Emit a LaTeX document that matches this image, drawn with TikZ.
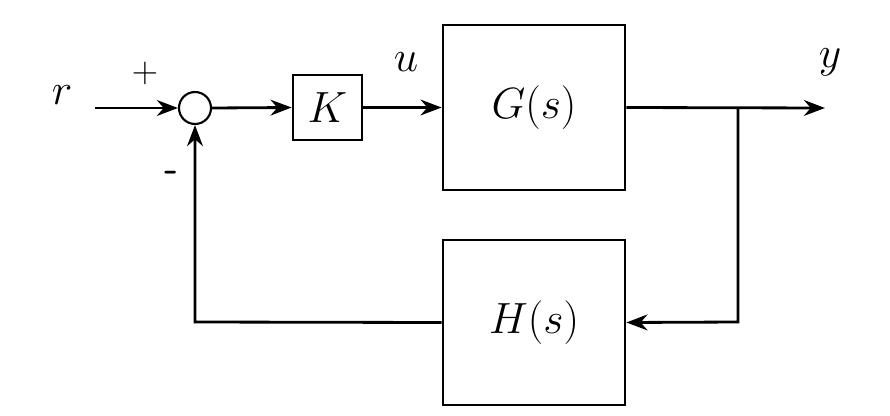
\documentclass[tikz,border=0pt]{standalone}
\usetikzlibrary{arrows.meta}
\begin{document}
\begin{tikzpicture}[x=0.02cm,y=-0.02cm,
  blk/.style={draw,line width=1.6pt,minimum width=3.64cm,minimum height=3.3cm,inner sep=0},
  kb/.style={draw,line width=1.6pt,minimum width=1.38cm,minimum height=1.3cm,inner sep=0},
  ln/.style={line width=1.6pt},
  ar/.style={ln,-{Stealth[length=12pt,width=9pt]}},
  lab/.style={font=\fontsize{27}{30}\selectfont}]
\useasboundingbox (0,0) rectangle (890,416);
\node[draw,circle,line width=1.2pt,minimum size=0.64cm,inner sep=0] (sum) at (195,108) {};
\node[kb] (K) at (327.5,107.5) {};
\node[lab] at (327.5,107.5) {$K$};
\node[blk] (G) at (534,107.5) {};
\node[lab] at (534,107.5) {$G(s)$};
\node[blk] (H) at (534,322.5) {};
\node[lab] at (534,322.5) {$H(s)$};
\coordinate (rin) at (95,108);
\coordinate (yout) at (825,108);
\coordinate (br) at (738,108);
\coordinate (bd) at (738,322);
\coordinate (bl) at (195,322);
\node[lab] at (62,95) {$r$};
\node[font=\fontsize{22}{24}\selectfont] at (145,73) {$+$};
\node[font=\fontsize{22}{24}\sffamily\bfseries] at (172,176) {-};
\node[lab] at (406,62) {$u$};
\node[lab] at (830,62) {$y$};
\draw[ar] (rin) -- (sum.west);
\draw[ar] (sum.east) -- (K.west);
\draw[ar] (K.east) -- (G.west);
\draw[ar] (G.east) -- (yout);
\draw[ar] (br) -- (bd) -- (H.east);
\draw[ar] (H.west) -- (bl) -- (sum.south);
\end{tikzpicture}
\end{document}
